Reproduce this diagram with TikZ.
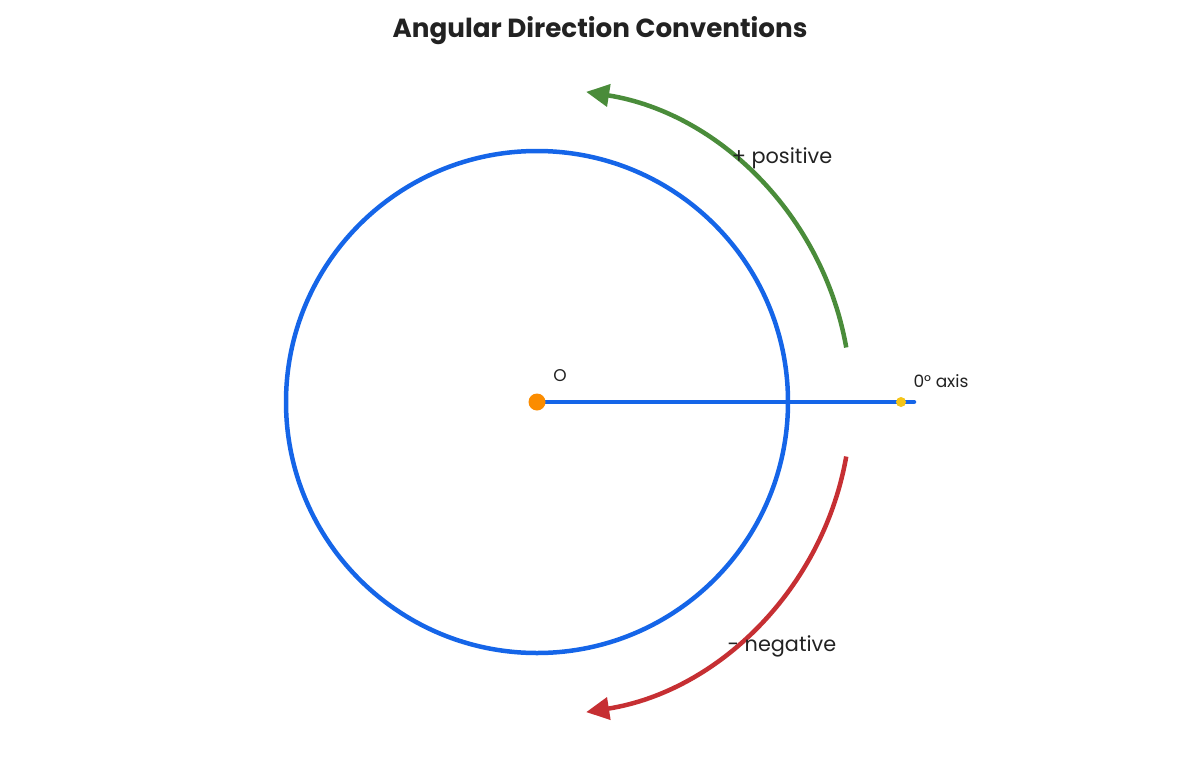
\documentclass[tikz,border=0pt]{standalone}
\usepackage{fontspec}
\setmainfont{Poppins}
\usepackage{tikz}
\usetikzlibrary{arrows.meta,calc,positioning}
\definecolor{ringblue}{HTML}{1565E8}
\definecolor{posgreen}{HTML}{4A8C3A}
\definecolor{negred}{HTML}{C62F33}
\definecolor{dotorange}{HTML}{FB8C00}
\definecolor{dotyellow}{HTML}{F5C518}
\definecolor{inkgrey}{HTML}{222222}
\tikzset{ringstyle/.style={draw=ringblue,line width=4.5pt},
         arcstyle/.style={line width=4.5pt,-{Triangle[length=23pt,width=22pt]}},
         labelstyle/.style={text=inkgrey,font=\fontsize{20.8}{24}\selectfont},
         smallstyle/.style={text=inkgrey,font=\fontsize{17}{20}\selectfont}}

\begin{document}
\begin{tikzpicture}[x=1pt,y=1pt]
            \useasboundingbox (0,0) rectangle (1200,-763);
            % title
            \node[text=inkgrey,font=\bfseries\fontsize{26.2}{31}\selectfont] (title) at (600,-31) {Angular Direction Conventions};
            % the circle and the axis
            \coordinate (O) at (537,-402);
            \coordinate (axisend) at (914,-402);
            \draw[ringstyle] (O) circle (251);
            \draw[ringstyle,line cap=round] (O) -- (axisend);
            \node[shape=circle,fill=dotorange,inner sep=0pt,minimum size=17pt] (origin) at (O) {};
            \node[shape=circle,fill=dotyellow,inner sep=0pt,minimum size=10pt] (zerodot) at (901,-402) {};
            % direction arcs
            \draw[arcstyle,posgreen] ($(O)+(10:314)$) arc (10:81:314);
            \draw[arcstyle,negred] ($(O)+(-10:314)$) arc (-10:-81:314);
            % labels
            \node[smallstyle] (olabel) at (560,-376) {O};
            \node[smallstyle] (axislabel) at (941,-381) {0° axis};
            \node[labelstyle] (poslabel) at (782,-158) {+ positive};
            \node[labelstyle] (neglabel) at (782,-646) {- negative};
        \end{tikzpicture}
\end{document}
